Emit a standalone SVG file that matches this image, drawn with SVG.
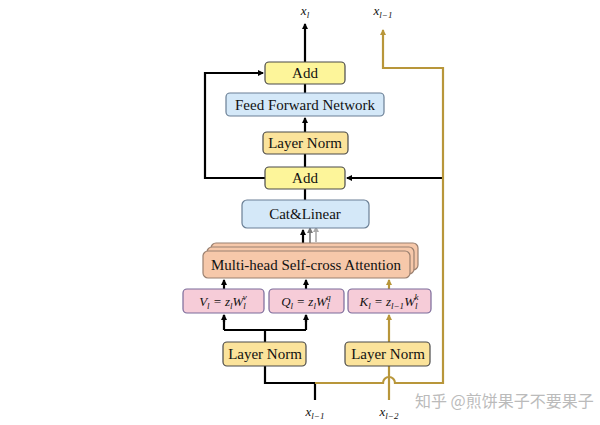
<svg xmlns="http://www.w3.org/2000/svg" width="600" height="425" viewBox="0 0 600 425">
<defs>
<style>
text{font-family:"Liberation Serif",serif;fill:#111}
.lbl{font-size:15px;text-anchor:middle}
.m{font-size:13px;font-style:italic;text-anchor:middle}
.add{fill:#fdf59a;stroke:#4a4a4a;stroke-width:1.2}
.ln{fill:#fbe39b;stroke:#4a4a4a;stroke-width:1.2}
.blue{fill:#d4e8f8;stroke:#6a7f95;stroke-width:1.2}
.pink{fill:#f6ccd8;stroke:#7a6a9a;stroke-width:1.2}
.mh{fill:#f6c8aa;stroke:#9a8070;stroke-width:1.2}
.k{fill:none;stroke:#000;stroke-width:2.2}
.g{fill:none;stroke:#b8963a;stroke-width:2.2}
</style>
<marker id="ab" markerWidth="6" markerHeight="6" refX="5" refY="3" orient="auto" markerUnits="userSpaceOnUse" viewBox="0 0 6 6"><path d="M0,0L6,3L0,6z" fill="#000"/></marker>
<marker id="ag" markerWidth="6" markerHeight="6" refX="5" refY="3" orient="auto" markerUnits="userSpaceOnUse" viewBox="0 0 6 6"><path d="M0,0L6,3L0,6z" fill="#b8963a"/></marker>
<marker id="agr" markerWidth="6" markerHeight="6" refX="5" refY="3" orient="auto" markerUnits="userSpaceOnUse" viewBox="0 0 6 6"><path d="M0,0L6,3L0,6z" fill="#777"/></marker>
<marker id="alg" markerWidth="6" markerHeight="6" refX="5" refY="3" orient="auto" markerUnits="userSpaceOnUse" viewBox="0 0 6 6"><path d="M0,0L6,3L0,6z" fill="#aaa"/></marker>
</defs>
<g id="connectors">
<path class="k" d="M305,62V24" marker-end="url(#ab)"/>
<path class="k" d="M305,93V84"/>
<path class="k" d="M305,132V118" marker-end="url(#ab)"/>
<path class="k" d="M305,167V154"/>
<path class="k" d="M305,200V189"/>
<path class="k" d="M265,178H205V73H263" marker-end="url(#ab)"/>
<path class="k" d="M443,178H347" marker-end="url(#ab)"/>
<path class="k" d="M303,246V230" marker-end="url(#ab)" stroke-width="1.6"/>
<path d="M310,244V228" stroke="#777" stroke-width="1.6" marker-end="url(#agr)"/>
<path d="M316,242V227" stroke="#aaa" stroke-width="1.6" marker-end="url(#alg)"/>
<path class="k" d="M224,289V280" marker-end="url(#ab)"/>
<path class="k" d="M306,289V280" marker-end="url(#ab)"/>
<path class="k" d="M265,342V330M224,330H306M224,330V315M306,330V315" />
<path class="k" d="M224,322V315" marker-end="url(#ab)"/>
<path class="k" d="M306,322V315" marker-end="url(#ab)"/>
<path class="k" d="M315,400V383H265V366"/>
<path class="g" d="M315,383H383A6,6 0 0 1 395,383H443V68H383V30" marker-end="url(#ag)"/>
<path class="g" d="M389,400V366"/>
<path class="g" d="M389,342V315" marker-end="url(#ag)"/>
<path class="g" d="M389,289V280" marker-end="url(#ag)"/>
</g>
<g id="add-top"><rect class="add" x="265" y="62" width="80" height="22" rx="4"/><text class="lbl" x="305" y="78">Add</text></g>
<g id="ffn"><rect class="blue" x="226" y="93" width="158" height="23" rx="4"/><text class="lbl" x="305" y="110">Feed Forward Network</text></g>
<g id="ln-mid"><rect class="ln" x="263" y="132" width="85" height="22" rx="4"/><text class="lbl" x="305" y="148">Layer Norm</text></g>
<g id="add-mid"><rect class="add" x="265" y="167" width="80" height="22" rx="4"/><text class="lbl" x="305" y="183">Add</text></g>
<g id="cat"><rect class="blue" x="242" y="200" width="127" height="28" rx="5"/><text class="lbl" x="305" y="219">Cat&amp;Linear</text></g>
<g id="mhsa">
<rect class="mh" x="211" y="243" width="207" height="27" rx="5"/>
<rect class="mh" x="207" y="247" width="207" height="27" rx="5"/>
<rect class="mh" x="203" y="251" width="207" height="27" rx="5"/>
<text class="lbl" x="306" y="270">Multi-head Self-cross Attention</text></g>
<g id="v"><rect class="pink" x="183" y="289" width="81" height="24" rx="4"/><text class="m" x="223" y="306">V<tspan font-size="9" dy="3">l</tspan><tspan dy="-3"> = z</tspan><tspan font-size="9" dy="3">l</tspan><tspan dy="-3">W</tspan><tspan font-size="9" dy="3">l</tspan><tspan font-size="9" dx="-3" dy="-9">v</tspan></text></g>
<g id="q"><rect class="pink" x="269" y="289" width="75" height="24" rx="4"/><text class="m" x="306" y="306">Q<tspan font-size="9" dy="3">l</tspan><tspan dy="-3"> = z</tspan><tspan font-size="9" dy="3">l</tspan><tspan dy="-3">W</tspan><tspan font-size="9" dy="3">l</tspan><tspan font-size="9" dx="-3" dy="-9">q</tspan></text></g>
<g id="k"><rect class="pink" x="348" y="289" width="83" height="24" rx="4"/><text class="m" x="389" y="306">K<tspan font-size="9" dy="3">l</tspan><tspan dy="-3"> = z</tspan><tspan font-size="9" dy="3">l−1</tspan><tspan dy="-3">W</tspan><tspan font-size="9" dy="3">l</tspan><tspan font-size="9" dx="-3" dy="-9">k</tspan></text></g>
<g id="ln-left"><rect class="ln" x="223" y="342" width="83" height="24" rx="4"/><text class="lbl" x="265" y="359">Layer Norm</text></g>
<g id="ln-right"><rect class="ln" x="345" y="342" width="85" height="24" rx="4"/><text class="lbl" x="388" y="359">Layer Norm</text></g>
<g id="labels">
<text class="m" x="305" y="15" font-size="14">x<tspan font-size="9" dy="3">l</tspan></text>
<text class="m" x="383" y="15" font-size="14">x<tspan font-size="9" dy="3">l−1</tspan></text>
<text class="m" x="315" y="416" font-size="14">x<tspan font-size="9" dy="3">l−1</tspan></text>
<text class="m" x="389" y="416" font-size="14">x<tspan font-size="9" dy="3">l−2</tspan></text>
<text x="415" y="407" font-size="16" style="font-family:'Noto Sans CJK SC',sans-serif;fill:#bbb">知乎 @煎饼果子不要果子</text>
</g>
</svg>
